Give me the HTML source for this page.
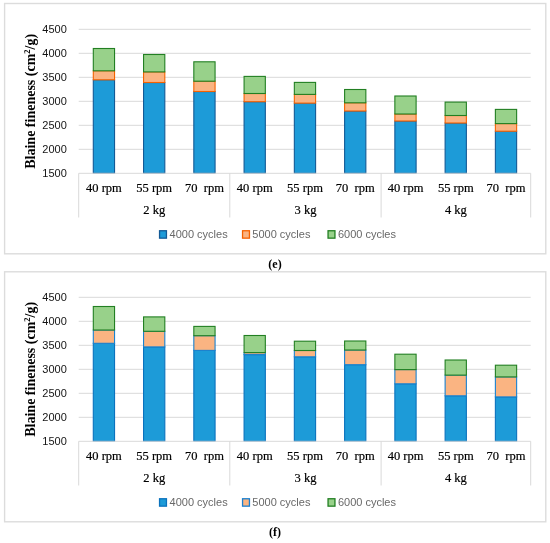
<!DOCTYPE html>
<html><head><meta charset="utf-8"><style>
html,body{margin:0;padding:0;background:#fff;}
body{width:550px;height:543px;overflow:hidden;}
svg{display:block;}
.yt{font-family:"Liberation Sans",sans-serif;font-size:11px;fill:#141414;text-anchor:end;}
.xl{font-family:"Liberation Serif",serif;font-size:12.5px;fill:#000;stroke:#000;stroke-width:0.2px;text-anchor:middle;}
.yttl{font-family:"Liberation Serif",serif;font-size:14px;font-weight:bold;fill:#000;text-anchor:middle;}
.lg{font-family:"Liberation Sans",sans-serif;font-size:11px;fill:#686868;}
.cap{font-family:"Liberation Serif",serif;font-size:12px;font-weight:bold;fill:#000;text-anchor:middle;}
</style></head><body>
<svg width="550" height="543" viewBox="0 0 550 543">
<rect x="4.6" y="3.5" width="541.2" height="250.3" fill="none" stroke="#dcdcdc" stroke-width="1.4"/>
<line x1="78.7" x2="530.7" y1="29.3" y2="29.3" stroke="#d9d9d9" stroke-width="1"/>
<line x1="78.7" x2="530.7" y1="53.3" y2="53.3" stroke="#d9d9d9" stroke-width="1"/>
<line x1="78.7" x2="530.7" y1="77.3" y2="77.3" stroke="#d9d9d9" stroke-width="1"/>
<line x1="78.7" x2="530.7" y1="101.3" y2="101.3" stroke="#d9d9d9" stroke-width="1"/>
<line x1="78.7" x2="530.7" y1="125.3" y2="125.3" stroke="#d9d9d9" stroke-width="1"/>
<line x1="78.7" x2="530.7" y1="149.3" y2="149.3" stroke="#d9d9d9" stroke-width="1"/>
<text x="66.8" y="33.2" class="yt">4500</text>
<text x="66.8" y="57.2" class="yt">4000</text>
<text x="66.8" y="81.2" class="yt">3500</text>
<text x="66.8" y="105.2" class="yt">3000</text>
<text x="66.8" y="129.2" class="yt">2500</text>
<text x="66.8" y="153.2" class="yt">2000</text>
<text x="66.8" y="177.2" class="yt">1500</text>
<rect x="93.30" y="79.80" width="21.25" height="93.50" fill="#1d9bd8" stroke="#135a96" stroke-width="1.1"/>
<rect x="93.30" y="70.80" width="21.25" height="9.00" fill="#fab482" stroke="#f56200" stroke-width="1.1"/>
<rect x="93.30" y="48.50" width="21.25" height="22.30" fill="#98d18a" stroke="#227f22" stroke-width="1.1"/>
<rect x="143.56" y="82.50" width="21.25" height="90.80" fill="#1d9bd8" stroke="#135a96" stroke-width="1.1"/>
<rect x="143.56" y="71.90" width="21.25" height="10.60" fill="#fab482" stroke="#f56200" stroke-width="1.1"/>
<rect x="143.56" y="54.50" width="21.25" height="17.40" fill="#98d18a" stroke="#227f22" stroke-width="1.1"/>
<rect x="193.82" y="91.50" width="21.25" height="81.80" fill="#1d9bd8" stroke="#135a96" stroke-width="1.1"/>
<rect x="193.82" y="81.20" width="21.25" height="10.30" fill="#fab482" stroke="#f56200" stroke-width="1.1"/>
<rect x="193.82" y="61.80" width="21.25" height="19.40" fill="#98d18a" stroke="#227f22" stroke-width="1.1"/>
<rect x="244.08" y="101.70" width="21.25" height="71.60" fill="#1d9bd8" stroke="#135a96" stroke-width="1.1"/>
<rect x="244.08" y="93.50" width="21.25" height="8.20" fill="#fab482" stroke="#f56200" stroke-width="1.1"/>
<rect x="244.08" y="76.40" width="21.25" height="17.10" fill="#98d18a" stroke="#227f22" stroke-width="1.1"/>
<rect x="294.34" y="103.10" width="21.25" height="70.20" fill="#1d9bd8" stroke="#135a96" stroke-width="1.1"/>
<rect x="294.34" y="94.40" width="21.25" height="8.70" fill="#fab482" stroke="#f56200" stroke-width="1.1"/>
<rect x="294.34" y="82.40" width="21.25" height="12.00" fill="#98d18a" stroke="#227f22" stroke-width="1.1"/>
<rect x="344.60" y="111.00" width="21.25" height="62.30" fill="#1d9bd8" stroke="#135a96" stroke-width="1.1"/>
<rect x="344.60" y="102.80" width="21.25" height="8.20" fill="#fab482" stroke="#f56200" stroke-width="1.1"/>
<rect x="344.60" y="89.50" width="21.25" height="13.30" fill="#98d18a" stroke="#227f22" stroke-width="1.1"/>
<rect x="394.86" y="121.00" width="21.25" height="52.30" fill="#1d9bd8" stroke="#135a96" stroke-width="1.1"/>
<rect x="394.86" y="114.00" width="21.25" height="7.00" fill="#fab482" stroke="#f56200" stroke-width="1.1"/>
<rect x="394.86" y="96.00" width="21.25" height="18.00" fill="#98d18a" stroke="#227f22" stroke-width="1.1"/>
<rect x="445.12" y="123.00" width="21.25" height="50.30" fill="#1d9bd8" stroke="#135a96" stroke-width="1.1"/>
<rect x="445.12" y="115.50" width="21.25" height="7.50" fill="#fab482" stroke="#f56200" stroke-width="1.1"/>
<rect x="445.12" y="102.10" width="21.25" height="13.40" fill="#98d18a" stroke="#227f22" stroke-width="1.1"/>
<rect x="495.38" y="131.20" width="21.25" height="42.10" fill="#1d9bd8" stroke="#135a96" stroke-width="1.1"/>
<rect x="495.38" y="123.60" width="21.25" height="7.60" fill="#fab482" stroke="#f56200" stroke-width="1.1"/>
<rect x="495.38" y="109.40" width="21.25" height="14.20" fill="#98d18a" stroke="#227f22" stroke-width="1.1"/>
<line x1="78.7" x2="530.7" y1="173.3" y2="173.3" stroke="#d9d9d9" stroke-width="1"/>
<line x1="78.7" x2="78.7" y1="173.3" y2="217.5" stroke="#d9d9d9" stroke-width="1"/>
<line x1="229.8" x2="229.8" y1="173.3" y2="217.5" stroke="#d9d9d9" stroke-width="1"/>
<line x1="381.1" x2="381.1" y1="173.3" y2="217.5" stroke="#d9d9d9" stroke-width="1"/>
<line x1="530.7" x2="530.7" y1="173.3" y2="217.5" stroke="#d9d9d9" stroke-width="1"/>
<text x="103.95" y="192.2" class="xl">40 rpm</text>
<text x="154.21" y="192.2" class="xl">55 rpm</text>
<text x="204.47" y="192.2" class="xl">70  rpm</text>
<text x="254.73" y="192.2" class="xl">40 rpm</text>
<text x="304.99" y="192.2" class="xl">55 rpm</text>
<text x="355.25" y="192.2" class="xl">70  rpm</text>
<text x="405.51" y="192.2" class="xl">40 rpm</text>
<text x="455.77" y="192.2" class="xl">55 rpm</text>
<text x="506.03" y="192.2" class="xl">70  rpm</text>
<text x="154.25" y="214.3" class="xl">2 kg</text>
<text x="305.45" y="214.3" class="xl">3 kg</text>
<text x="455.90" y="214.3" class="xl">4 kg</text>
<text transform="translate(34.9 101.3) rotate(-90)" class="yttl">Blaine fineness (cm<tspan font-size="8.5" dy="-4.5">2</tspan><tspan dy="4.5">/g)</tspan></text>
<rect x="159.55" y="230.75" width="6.9" height="7.4" fill="#1d9bd8" stroke="#135a96" stroke-width="1.3"/>
<text x="169.6" y="238.4" class="lg">4000 cycles</text>
<rect x="242.55" y="230.75" width="6.9" height="7.4" fill="#fab482" stroke="#f56200" stroke-width="1.3"/>
<text x="252.3" y="238.4" class="lg">5000 cycles</text>
<rect x="328.05" y="230.75" width="6.9" height="7.4" fill="#98d18a" stroke="#227f22" stroke-width="1.3"/>
<text x="337.9" y="238.4" class="lg">6000 cycles</text>
<text x="275" y="268" class="cap">(e)</text>
<rect x="4.6" y="271.8" width="541.2" height="250.0" fill="none" stroke="#dcdcdc" stroke-width="1.4"/>
<line x1="78.7" x2="530.7" y1="297.3" y2="297.3" stroke="#d9d9d9" stroke-width="1"/>
<line x1="78.7" x2="530.7" y1="321.3" y2="321.3" stroke="#d9d9d9" stroke-width="1"/>
<line x1="78.7" x2="530.7" y1="345.3" y2="345.3" stroke="#d9d9d9" stroke-width="1"/>
<line x1="78.7" x2="530.7" y1="369.3" y2="369.3" stroke="#d9d9d9" stroke-width="1"/>
<line x1="78.7" x2="530.7" y1="393.3" y2="393.3" stroke="#d9d9d9" stroke-width="1"/>
<line x1="78.7" x2="530.7" y1="417.3" y2="417.3" stroke="#d9d9d9" stroke-width="1"/>
<text x="66.8" y="301.2" class="yt">4500</text>
<text x="66.8" y="325.2" class="yt">4000</text>
<text x="66.8" y="349.2" class="yt">3500</text>
<text x="66.8" y="373.2" class="yt">3000</text>
<text x="66.8" y="397.2" class="yt">2500</text>
<text x="66.8" y="421.2" class="yt">2000</text>
<text x="66.8" y="445.2" class="yt">1500</text>
<rect x="93.30" y="343.30" width="21.25" height="98.00" fill="#1d9bd8" stroke="#0b72bd" stroke-width="1.1"/>
<rect x="93.30" y="330.00" width="21.25" height="13.30" fill="#fab482" stroke="#1a82cf" stroke-width="1.1"/>
<rect x="93.30" y="306.50" width="21.25" height="23.50" fill="#98d18a" stroke="#227f22" stroke-width="1.1"/>
<rect x="143.56" y="346.90" width="21.25" height="94.40" fill="#1d9bd8" stroke="#0b72bd" stroke-width="1.1"/>
<rect x="143.56" y="331.30" width="21.25" height="15.60" fill="#fab482" stroke="#1a82cf" stroke-width="1.1"/>
<rect x="143.56" y="316.90" width="21.25" height="14.40" fill="#98d18a" stroke="#227f22" stroke-width="1.1"/>
<rect x="193.82" y="350.40" width="21.25" height="90.90" fill="#1d9bd8" stroke="#0b72bd" stroke-width="1.1"/>
<rect x="193.82" y="335.70" width="21.25" height="14.70" fill="#fab482" stroke="#1a82cf" stroke-width="1.1"/>
<rect x="193.82" y="326.40" width="21.25" height="9.30" fill="#98d18a" stroke="#227f22" stroke-width="1.1"/>
<rect x="244.08" y="354.60" width="21.25" height="86.70" fill="#1d9bd8" stroke="#0b72bd" stroke-width="1.1"/>
<rect x="244.08" y="352.60" width="21.25" height="2.00" fill="#fab482" stroke="#1a82cf" stroke-width="1.1"/>
<rect x="244.08" y="335.50" width="21.25" height="17.10" fill="#98d18a" stroke="#227f22" stroke-width="1.1"/>
<rect x="294.34" y="356.80" width="21.25" height="84.50" fill="#1d9bd8" stroke="#0b72bd" stroke-width="1.1"/>
<rect x="294.34" y="350.50" width="21.25" height="6.30" fill="#fab482" stroke="#1a82cf" stroke-width="1.1"/>
<rect x="294.34" y="341.20" width="21.25" height="9.30" fill="#98d18a" stroke="#227f22" stroke-width="1.1"/>
<rect x="344.60" y="364.70" width="21.25" height="76.60" fill="#1d9bd8" stroke="#0b72bd" stroke-width="1.1"/>
<rect x="344.60" y="350.00" width="21.25" height="14.70" fill="#fab482" stroke="#1a82cf" stroke-width="1.1"/>
<rect x="344.60" y="341.00" width="21.25" height="9.00" fill="#98d18a" stroke="#227f22" stroke-width="1.1"/>
<rect x="394.86" y="383.80" width="21.25" height="57.50" fill="#1d9bd8" stroke="#0b72bd" stroke-width="1.1"/>
<rect x="394.86" y="369.60" width="21.25" height="14.20" fill="#fab482" stroke="#1a82cf" stroke-width="1.1"/>
<rect x="394.86" y="354.20" width="21.25" height="15.40" fill="#98d18a" stroke="#227f22" stroke-width="1.1"/>
<rect x="445.12" y="395.80" width="21.25" height="45.50" fill="#1d9bd8" stroke="#0b72bd" stroke-width="1.1"/>
<rect x="445.12" y="375.10" width="21.25" height="20.70" fill="#fab482" stroke="#1a82cf" stroke-width="1.1"/>
<rect x="445.12" y="360.00" width="21.25" height="15.10" fill="#98d18a" stroke="#227f22" stroke-width="1.1"/>
<rect x="495.38" y="396.90" width="21.25" height="44.40" fill="#1d9bd8" stroke="#0b72bd" stroke-width="1.1"/>
<rect x="495.38" y="376.90" width="21.25" height="20.00" fill="#fab482" stroke="#1a82cf" stroke-width="1.1"/>
<rect x="495.38" y="365.20" width="21.25" height="11.70" fill="#98d18a" stroke="#227f22" stroke-width="1.1"/>
<line x1="78.7" x2="530.7" y1="441.3" y2="441.3" stroke="#d9d9d9" stroke-width="1"/>
<line x1="78.7" x2="78.7" y1="441.3" y2="485.5" stroke="#d9d9d9" stroke-width="1"/>
<line x1="229.8" x2="229.8" y1="441.3" y2="485.5" stroke="#d9d9d9" stroke-width="1"/>
<line x1="381.1" x2="381.1" y1="441.3" y2="485.5" stroke="#d9d9d9" stroke-width="1"/>
<line x1="530.7" x2="530.7" y1="441.3" y2="485.5" stroke="#d9d9d9" stroke-width="1"/>
<text x="103.95" y="460.2" class="xl">40 rpm</text>
<text x="154.21" y="460.2" class="xl">55 rpm</text>
<text x="204.47" y="460.2" class="xl">70  rpm</text>
<text x="254.73" y="460.2" class="xl">40 rpm</text>
<text x="304.99" y="460.2" class="xl">55 rpm</text>
<text x="355.25" y="460.2" class="xl">70  rpm</text>
<text x="405.51" y="460.2" class="xl">40 rpm</text>
<text x="455.77" y="460.2" class="xl">55 rpm</text>
<text x="506.03" y="460.2" class="xl">70  rpm</text>
<text x="154.25" y="482.3" class="xl">2 kg</text>
<text x="305.45" y="482.3" class="xl">3 kg</text>
<text x="455.90" y="482.3" class="xl">4 kg</text>
<text transform="translate(34.9 369.3) rotate(-90)" class="yttl">Blaine fineness (cm<tspan font-size="8.5" dy="-4.5">2</tspan><tspan dy="4.5">/g)</tspan></text>
<rect x="159.55" y="498.75" width="6.9" height="7.4" fill="#1d9bd8" stroke="#0b72bd" stroke-width="1.3"/>
<text x="169.6" y="506.4" class="lg">4000 cycles</text>
<rect x="242.55" y="498.75" width="6.9" height="7.4" fill="#fab482" stroke="#1a7fd0" stroke-width="1.3"/>
<text x="252.3" y="506.4" class="lg">5000 cycles</text>
<rect x="328.05" y="498.75" width="6.9" height="7.4" fill="#98d18a" stroke="#227f22" stroke-width="1.3"/>
<text x="337.9" y="506.4" class="lg">6000 cycles</text>
<text x="275" y="536" class="cap">(f)</text>
</svg>
</body></html>
